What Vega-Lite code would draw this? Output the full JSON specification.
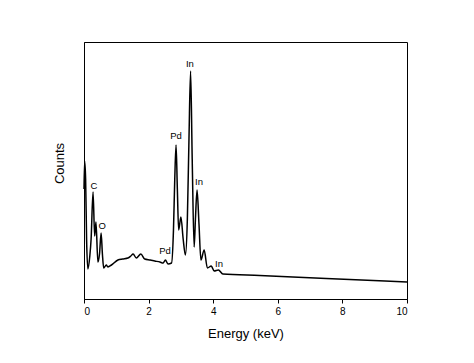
{
  "$schema": "https://vega.github.io/schema/vega-lite/v6.json",
  "width": 323,
  "height": 257,
  "autosize": "none",
  "padding": {"left": 84, "top": 42, "right": 67, "bottom": 64},
  "background": "white",
  "config": {
    "view": {"stroke": "black", "strokeWidth": 1},
    "axis": {"grid": false, "domainColor": "black", "tickColor": "black", "labelColor": "black", "titleColor": "black", "labelFont": "Liberation Sans", "titleFont": "Liberation Sans", "titleFontWeight": "normal"},
    "text": {"font": "Liberation Sans"}
  },
  "datasets": {
    "spectrum": [
      {"energy": 0.0, "counts": 110},
      {"energy": 0.02, "counts": 138},
      {"energy": 0.05, "counts": 120},
      {"energy": 0.08, "counts": 60},
      {"energy": 0.12, "counts": 30},
      {"energy": 0.18, "counts": 43},
      {"energy": 0.22, "counts": 60},
      {"energy": 0.28, "counts": 107},
      {"energy": 0.33, "counts": 63},
      {"energy": 0.37, "counts": 77},
      {"energy": 0.43, "counts": 37},
      {"energy": 0.48, "counts": 45},
      {"energy": 0.53, "counts": 66},
      {"energy": 0.57, "counts": 45},
      {"energy": 0.61, "counts": 31},
      {"energy": 0.69, "counts": 34},
      {"energy": 0.74, "counts": 32},
      {"energy": 0.85, "counts": 34},
      {"energy": 1.05, "counts": 39},
      {"energy": 1.2, "counts": 40},
      {"energy": 1.36, "counts": 41},
      {"energy": 1.45, "counts": 43},
      {"energy": 1.52, "counts": 45},
      {"energy": 1.62, "counts": 41},
      {"energy": 1.76, "counts": 45},
      {"energy": 1.88, "counts": 40},
      {"energy": 2.05, "counts": 39},
      {"energy": 2.19, "counts": 38},
      {"energy": 2.35, "counts": 37},
      {"energy": 2.45, "counts": 36},
      {"energy": 2.52, "counts": 39},
      {"energy": 2.6, "counts": 35},
      {"energy": 2.71, "counts": 36},
      {"energy": 2.77, "counts": 69},
      {"energy": 2.81, "counts": 120},
      {"energy": 2.85, "counts": 154},
      {"energy": 2.89, "counts": 110},
      {"energy": 2.93, "counts": 69},
      {"energy": 3.0, "counts": 82},
      {"energy": 3.07, "counts": 60},
      {"energy": 3.14, "counts": 44},
      {"energy": 3.2, "counts": 80},
      {"energy": 3.25, "counts": 160},
      {"energy": 3.3, "counts": 228},
      {"energy": 3.35, "counts": 140},
      {"energy": 3.41, "counts": 52},
      {"energy": 3.45, "counts": 80},
      {"energy": 3.5, "counts": 109},
      {"energy": 3.56, "counts": 75},
      {"energy": 3.62, "counts": 39},
      {"energy": 3.72, "counts": 49},
      {"energy": 3.82, "counts": 31},
      {"energy": 3.94, "counts": 33},
      {"energy": 4.03, "counts": 28},
      {"energy": 4.16, "counts": 29},
      {"energy": 4.3, "counts": 25},
      {"energy": 5.44, "counts": 23.5},
      {"energy": 7.5, "counts": 20.5},
      {"energy": 10.0, "counts": 17}
    ],
    "labels": [
      {"energy": 0.31, "counts": 113, "text": "C"},
      {"energy": 0.56, "counts": 73, "text": "O"},
      {"energy": 2.51, "counts": 48, "text": "Pd"},
      {"energy": 2.85, "counts": 163, "text": "Pd"},
      {"energy": 3.28, "counts": 235, "text": "In"},
      {"energy": 3.56, "counts": 117, "text": "In"},
      {"energy": 4.18, "counts": 35, "text": "In"}
    ]
  },
  "layer": [
    {
      "data": {"name": "spectrum"},
      "mark": {"type": "line", "color": "black", "strokeWidth": 1.5, "interpolate": "monotone"},
      "encoding": {
        "x": {
          "field": "energy", "type": "quantitative",
          "scale": {"domain": [0, 10], "nice": false},
          "axis": {
            "title": "Energy (keV)", "titleFontSize": 13, "titlePadding": 11,
            "values": [0, 1, 2, 3, 4, 5, 6, 7, 8, 9, 10],
            "labelExpr": "datum.value % 2 === 0 ? datum.label : ''",
            "labelFontSize": 10, "labelPadding": 3,
            "tickSize": {"condition": {"test": "datum.value % 2 === 1", "value": 2.5}, "value": 4}
          }
        },
        "y": {
          "field": "counts", "type": "quantitative",
          "scale": {"domain": [0, 257], "nice": false},
          "axis": {"title": "Counts", "titleFontSize": 13, "labels": false, "ticks": false, "titlePadding": 18, "titleY": 121}
        }
      }
    },
    {
      "data": {"name": "labels"},
      "mark": {"type": "text", "fontSize": 9.5, "color": "black"},
      "encoding": {
        "x": {"field": "energy", "type": "quantitative"},
        "y": {"field": "counts", "type": "quantitative"},
        "text": {"field": "text"}
      }
    }
  ]
}
